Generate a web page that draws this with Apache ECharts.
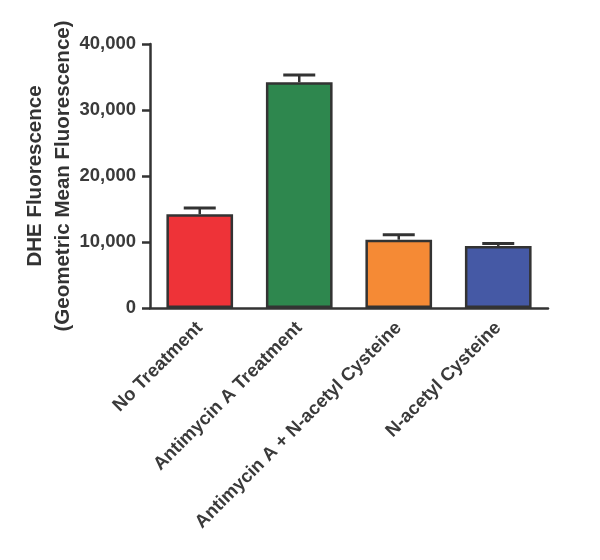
<!DOCTYPE html>
<html><head><meta charset="utf-8">
<script src="https://cdn.jsdelivr.net/npm/echarts@6/dist/echarts.min.js"></script>
<style>html,body{margin:0;padding:0;background:#fff}#c{width:600px;height:560px}</style>
</head><body><div id="c"></div>
<script>
const categories = ["No Treatment", "Antimycin A Treatment", "Antimycin A + N-acetyl Cysteine", "N-acetyl Cysteine"];
const means = [14200, 34200, 10350, 9400];
const errTops = [15150, 35300, 11100, 9780];
const colors = ["#EE3338", "#2E874E", "#F58A35", "#4559A5"];
const yTicks = [0, 10000, 20000, 30000, 40000];

const chart = echarts.init(document.getElementById('c'));
const font = "Liberation Sans, Arial, sans-serif";
chart.setOption({
  animation: false,
  grid: {left: 150, right: 52, top: 44, bottom: 252},
  xAxis: {
    type: 'category', data: categories,
    axisLine: {lineStyle: {color: '#333', width: 2.5}},
    axisTick: {alignWithLabel: true, length: 7, lineStyle: {color: '#333', width: 2.5}},
    axisLabel: {rotate: 45, interval: 0, color: '#3a3a3a', fontWeight: 'bold', fontSize: 18.5, fontFamily: font, margin: 17}
  },
  yAxis: {
    type: 'value', min: 0, max: 40000, interval: 10000,
    name: 'DHE Fluorescence\n(Geometric Mean Fluorescence)',
    nameLocation: 'middle', nameGap: 73, nameRotate: 90, nameMoveOverlap: false,
    nameTextStyle: {color: '#333', fontWeight: 'bold', fontSize: 20.5, fontFamily: font, lineHeight: 28},
    splitLine: {show: false},
    axisLine: {show: true, lineStyle: {color: '#333', width: 2.5}},
    axisTick: {show: true, length: 8, lineStyle: {color: '#333', width: 2.5}},
    axisLabel: {color: '#3a3a3a', fontWeight: 'bold', fontSize: 18.5, fontFamily: font, margin: 14,
      formatter: v => v.toLocaleString('en-US')}
  },
  series: [
    {
      type: 'bar', barWidth: '67%',
      data: means.map((v, i) => ({value: v, itemStyle: {color: colors[i]}})),
      itemStyle: {borderColor: '#333', borderWidth: 2.5}
    },
    {
      type: 'custom', z: 1,
      data: means.map((v, i) => [i, v, errTops[i]]),
      renderItem: function (params, api) {
        const p0 = api.coord([api.value(0), api.value(1)]);
        const p1 = api.coord([api.value(0), api.value(2)]);
        const hw = 16;
        return {
          type: 'group',
          children: [
            {type: 'line', shape: {x1: p0[0], y1: p0[1], x2: p1[0], y2: p1[1]}, style: {stroke: '#333', lineWidth: 2.5}},
            {type: 'line', shape: {x1: p1[0] - hw, y1: p1[1], x2: p1[0] + hw, y2: p1[1]}, style: {stroke: '#333', lineWidth: 3}}
          ]
        };
      }
    }
  ]
});
</script></body></html>
